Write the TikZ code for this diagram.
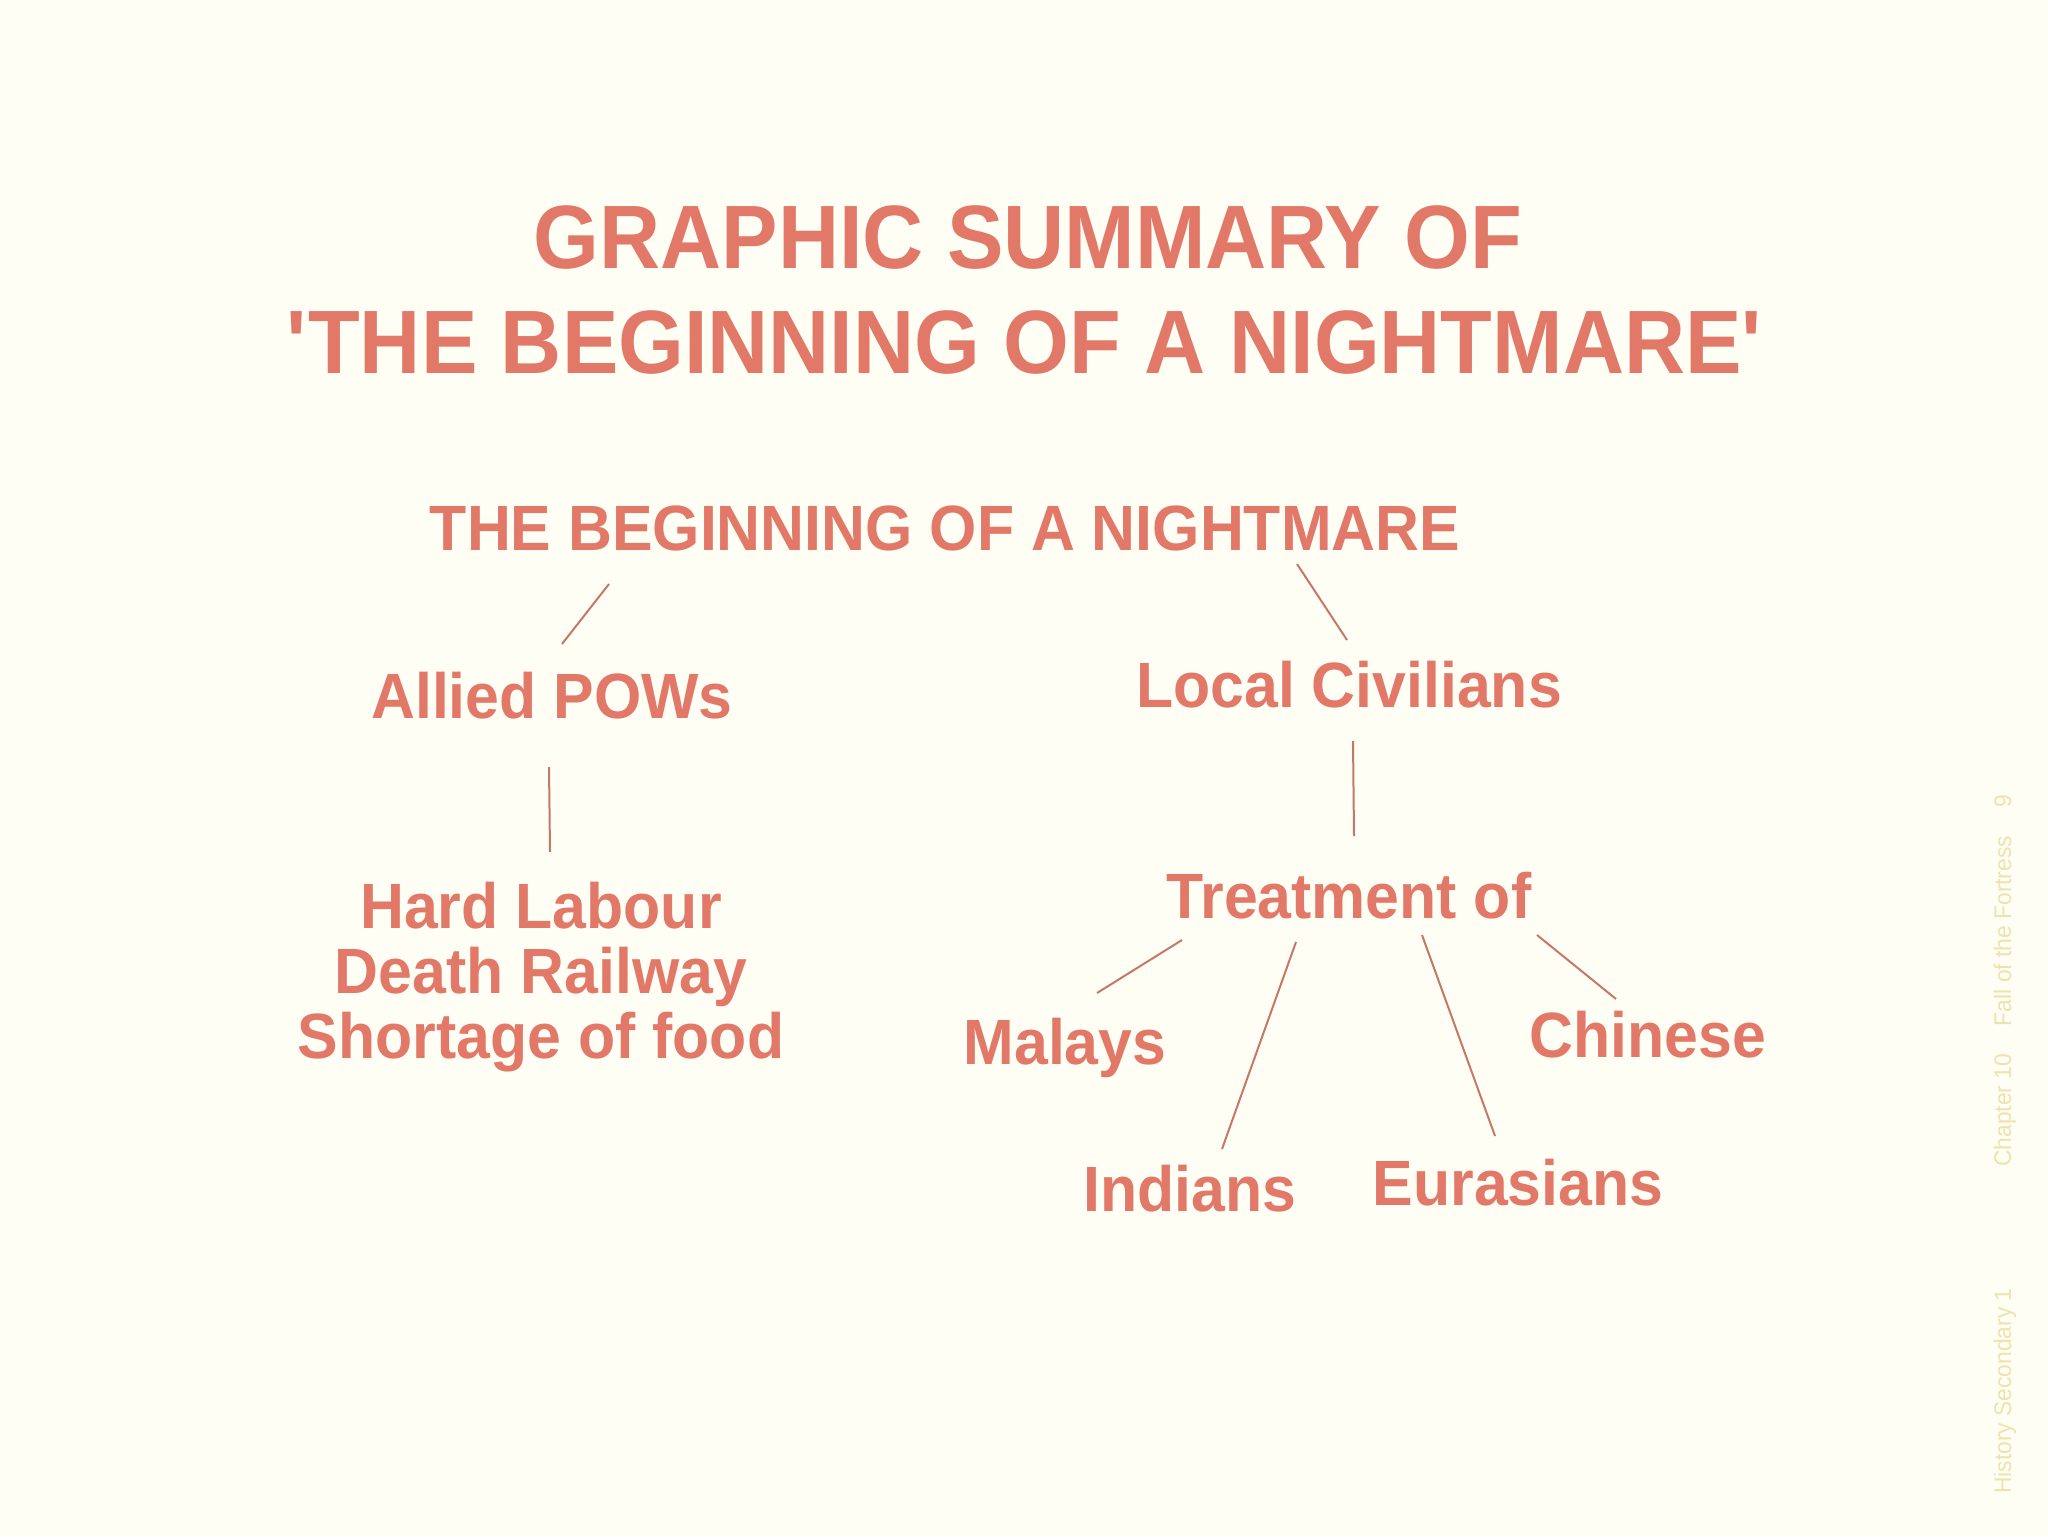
\documentclass[tikz,border=0pt]{standalone}
\usepackage{fontspec}
\newfontfamily\hel[FakeStretch=0.95]{Liberation Sans}
\newfontfamily\helt[FakeStretch=0.94]{Liberation Sans}
\definecolor{ink}{RGB}{226,120,104}
\definecolor{linec}{RGB}{198,120,104}
\definecolor{paper}{RGB}{255,254,244}
\definecolor{faint}{RGB}{238,226,175}
\begin{document}
\begin{tikzpicture}[x=0.5pt,y=-0.5pt,
  txt/.style={inner sep=0pt, anchor=base, text=ink, font=\hel\bfseries\fontsize{32}{32.5}\selectfont},
  ttl/.style={txt, font=\helt\bfseries\fontsize{45}{45}\selectfont},
  conn/.style={draw=linec, line width=1pt},
  foot/.style={inner sep=0pt, rotate=90, text=faint, font=\hel\fontsize{12}{12}\selectfont}]
\fill[paper] (0,0) rectangle (2048,1536);
\useasboundingbox (0,0) rectangle (2048,1536);
% titles
\node[ttl] (t1) at (1028,268) {GRAPHIC SUMMARY OF};
\node[ttl] (t2) at (1025,373) {\textquotesingle THE BEGINNING OF A NIGHTMARE\textquotesingle};
% tree
\node[txt] (root) at (945,550) {THE BEGINNING OF A NIGHTMARE};
\node[txt] (allied) at (552,718) {Allied POWs};
\node[txt] (local) at (1349,707) {Local Civilians};
\node[txt, anchor=north, align=center] (hard) at (541,882) {Hard Labour\\Death Railway\\Shortage of food};
\node[txt] (treat) at (1349,918) {Treatment of};
\node[txt] (malays) at (1065,1064) {Malays};
\node[txt] (chinese) at (1648,1057) {Chinese};
\node[txt] (indians) at (1190,1211) {Indians};
\node[txt] (eurasians) at (1518,1205) {Eurasians};
% connectors
\draw[conn] ([shift={(-336,34)}]root.base) -- ([shift={(10,-74)}]allied.base);
\draw[conn] ([shift={(352,14)}]root.base) -- ([shift={(-2,-67)}]local.base);
\draw[conn] ([shift={(-3,49)}]allied.base) -- ([shift={(9,-30)}]hard.north);
\draw[conn] ([shift={(4,34)}]local.base) -- ([shift={(5,-82)}]treat.base);
\draw[conn] ([shift={(-167,22)}]treat.base) -- ([shift={(32,-71)}]malays.base);
\draw[conn] ([shift={(-53,24)}]treat.base) -- ([shift={(32,-62)}]indians.base);
\draw[conn] ([shift={(73,17)}]treat.base) -- ([shift={(-23,-69)}]eurasians.base);
\draw[conn] ([shift={(188,17)}]treat.base) -- ([shift={(-32,-58)}]chinese.base);
% faint page footer
\node[foot] (foot1) at (2005,1391) {History Secondary 1};
\node[foot] (foot2) at (2005,981) {Chapter 10\hspace{14pt}Fall of the Fortress\hspace{14pt}9};
\end{tikzpicture}
\end{document}
